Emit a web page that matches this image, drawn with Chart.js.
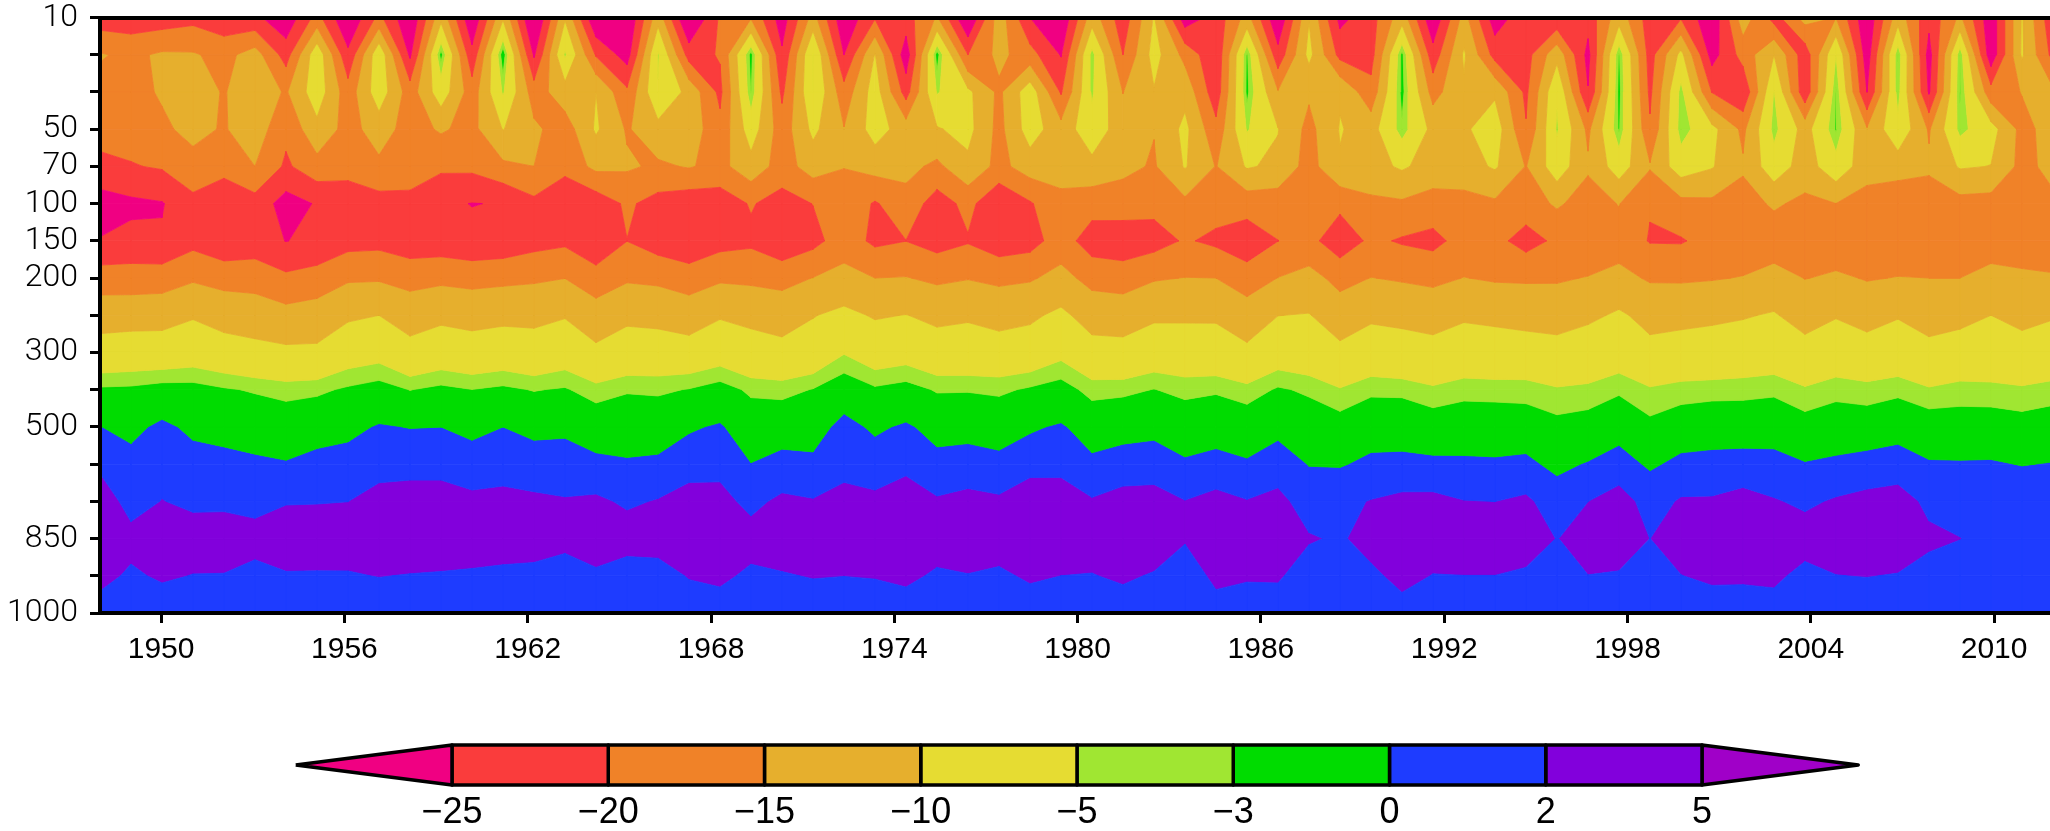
<!DOCTYPE html>
<html>
<head>
<meta charset="utf-8">
<title>Temperature section</title>
<script src="https://cdn.jsdelivr.net/npm/chart.js@4/dist/chart.umd.min.js"></script>
<style>
  html,body{margin:0;padding:0;background:#fff;overflow:hidden}
  canvas{position:absolute;left:0}
  #section{top:0}
  #bar{top:730px}
</style>
</head>
<body>
<canvas id="section" width="2050" height="720"></canvas>
<canvas id="bar" width="2050" height="101"></canvas>
<script>
// pressure levels, bottom of the section first
const levels=[1000,925,850,700,600,500,400,300,250,200,150,100,70,50,30,20,10];
const levelLabels=[1000,850,500,300,200,150,100,70,50,10];
const yearTicks=[1950,1956,1962,1968,1974,1980,1986,1992,1998,2004,2010];
const firstYear=1948, yearStep=1.0147;
const seamLevels=[20,70,200,700];

// one row per level, one value per sample along the time axis
const t10=[-22.8,-23.2,-22.7,-21.5,-23.5,-23.8,-28.7,-18.1,-29.9,-18.6,-29.5,-11.3,-29.4,-10.6,-31.4,-10.5,
-30,-30,-11.8,-31.5,-19.2,-15.5,-27.6,-13,-29,-20.5,-22,-14.5,-30.5,-12,-25,-29.5,
-12.2,-23,-9.6,-28,-23,-13,-29.6,-10.2,-26.5,-22,-12,-29.3,-13,-27.9,-21.5,-24,
-23,-12,-22.5,-20.5,-29,-12,-22,-13,-15,-29,-12,-23.5,-14,-28.5,-9.5,-24];
const t20=[-14.6,-16,-14.3,-14.5,-16.5,-12.8,-22.1,-6.4,-23.8,-6.1,-25.8,-2,-23.4,-1.3,-25.6,-4.3,
-20.5,-27.2,-4.4,-22,-19.6,-2,-24.2,-4.7,-25,-9.7,-28,-1.8,-20,-13.5,-18,-25.3,
-3.7,-20,-8,-16.5,-24,-2.5,-23.2,-8.5,-21.5,-22,-2.2,-23,-9.3,-21.8,-22,-11.5,
-26.5,-2.6,-22,-8.5,-27,-18,-10,-23,-5,-27.6,-2.85,-27,-3,-28.2,-9.3,-21.5];
const t30=[-16.5,-16.5,-14.5,-13,-15.3,-12,-15.5,-7,-17.8,-7,-17.5,-7,-17.6,-4.5,-17.4,-12.2,
-10,-19,-5.3,-11.5,-21.2,-2.85,-21,-4.95,-18,-7.5,-22,-4.6,-8.9,-16,-7,-20.5,
-4.4,-15.1,-10.3,-11.5,-23,-2.3,-14.6,-14.2,-10.5,-18.3,-2,-16.9,-10.6,-10.8,-21,-5.4,
-24.7,-2.1,-21,-3.8,-20.2,-24.3,-4.8,-23.4,-2.7,-25.05,-3.6,-25.6,-2.6,-18,-14.8,-14];
const t50=[-18.5,-18,-15.8,-13.7,-15.4,-12.2,-18.8,-11.4,-16.8,-12.7,-17,-14.4,-16.5,-9.8,-14,-17.5,
-9.3,-15.5,-11.6,-12,-18.5,-7.3,-17.7,-8.8,-14.8,-7.8,-12.4,-10.4,-8.4,-16.5,-7.5,-13.1,
-6.4,-13,-14.8,-8.7,-18.5,-4.6,-9.8,-16.5,-9.7,-12,-3.4,-11.4,-10.8,-7.1,-19.6,-4.5,
-16,-2.6,-19.3,-3.4,-8.5,-16.1,-3.9,-11.9,-2.7,-14.5,-6.05,-15.5,-3.9,-8,-16.5,-13];
const t70=[-21,-20.3,-19.5,-16.5,-18.5,-15,-20.8,-16.8,-17.2,-16,-17,-19,-18.85,-16,-15,-18.2,
-13.7,-14.3,-15.8,-14.6,-16.5,-11.8,-17.2,-12.7,-14.9,-13,-13.5,-16.1,-11.2,-16.5,-12.5,-13.5,
-11.6,-13.7,-15.5,-9.6,-15.2,-9.5,-11,-17,-10.4,-11.7,-9.3,-12,-12,-9.4,-15.2,-7,
-14.3,-7.4,-14.5,-7.2,-9.6,-14.4,-6.8,-12.5,-6.5,-13,-12.8,-14.2,-9.5,-10.1,-16.5,-13.5];
const t100=[-27.5,-26,-25.3,-21.5,-23.2,-22,-27,-24.6,-24.5,-22,-21.7,-24.3,-25.1,-24.8,-21.2,-24.8,
-23,-19.2,-21.8,-23.2,-22.7,-19.6,-22,-19.9,-16.5,-20.5,-16.8,-22.4,-18.5,-24.2,-20.5,-16,
-17.8,-17.5,-18.5,-16.2,-18,-17.8,-17.8,-17.5,-18.8,-16,-15.7,-17,-16.7,-15.8,-17.3,-14.3,
-17.1,-14.8,-19.7,-16.5,-16,-16.7,-14.4,-16,-15,-16.9,-18.5,-17.4,-16.7,-17,-18,-16];
const t150=[-24.7,-23.7,-24.5,-21.5,-24,-22.8,-25.1,-24,-21.8,-21.5,-23,-23,-24,-23.5,-21.8,-20.95,
-24.5,-20.05,-22.5,-24.5,-21.8,-21,-24,-21.5,-17.5,-21,-20.05,-22,-20.4,-23,-22,-17.5,
-22.6,-23,-22,-19.5,-21,-23,-20.05,-18.5,-23,-19,-20.5,-21.5,-18,-18.5,-22,-19,
-18.5,-17,-20.3,-20.4,-18.3,-18,-17.4,-18,-17,-18.5,-17,-17.8,-18,-17.5,-18.5,-18];
const t200=[-17.5,-17.6,-17.3,-15.6,-16.6,-17,-19,-17.9,-15.6,-15.5,-16.7,-16,-16.5,-16.1,-15.7,-15.05,
-17.6,-15.6,-16,-17.1,-15.7,-16,-16.5,-14.9,-13.3,-15,-14.8,-15.9,-15.2,-16,-15.5,-13.5,
-16.5,-17.4,-15.4,-14.9,-15,-17.7,-14.9,-13.3,-16.5,-14.9,-15.5,-16,-14.9,-15.5,-15.5,-15.5,
-14.8,-13.7,-15.5,-15.5,-15.3,-14.8,-13.4,-15.1,-14.5,-15.2,-14.9,-15,-15,-13.4,-13.8,-14.5];
const t250=[-12,-11.8,-11.7,-10.4,-11.9,-12.2,-13.3,-12.6,-10.7,-10,-11.9,-11,-11.5,-11.1,-11,-10.3,
-12.8,-10.9,-11.3,-12.5,-10.4,-11,-12,-10.2,-8.9,-10.4,-9.9,-11,-10.5,-11.5,-10.8,-9,
-12,-11.8,-10.7,-10.65,-10.6,-12.3,-10.05,-9.8,-12.4,-10.7,-10.9,-12,-10.6,-11,-12.1,-12,
-11,-9.3,-11.5,-11.8,-10.8,-10.35,-9.6,-12,-10.3,-12.8,-10.3,-11.5,-11.9,-10,-12,-10.4];
const t300=[-7.95,-7.59,-7.55,-6.91,-7.82,-8.72,-9.11,-9.15,-6.85,-6.23,-8.51,-7.26,-7.93,-7.35,-8.13,-6.96,
-9,-7.84,-7.75,-7.84,-6.78,-8.25,-8.57,-7.84,-5.2,-7.08,-6.48,-7.86,-7.92,-7.98,-7.62,-5.86,
-8.2,-8.71,-7.31,-7.53,-7.8,-9.15,-7,-7.58,-8.9,-7.68,-8.4,-8.2,-7.51,-7.74,-7.13,-8.2,
-7,-6.96,-8.63,-7.19,-7.87,-7.34,-7.1,-8.1,-7.08,-6.6,-7.43,-8.9,-6.82,-6.66,-7.1,-7.22];
const t400=[-2.62,-2.5,-1.95,-2.04,-2.73,-3.24,-3.82,-3.48,-2.62,-1.92,-3.05,-2.39,-2.96,-2.48,-3.12,-2.74,
-4.14,-3.23,-3.41,-2.87,-1.91,-3.46,-3.81,-2.87,-1.21,-2.6,-2,-3.22,-3.18,-3.47,-2.64,-1.86,
-3.83,-3.58,-2.92,-3.7,-3.32,-4.2,-2.69,-3.39,-4.8,-3.51,-3.58,-4.6,-3.86,-3.95,-4.22,-4.75,
-4.6,-3.42,-4.7,-4.37,-3.95,-3.89,-3.54,-4.7,-3.93,-4.56,-3.65,-4.7,-4.45,-4.57,-4.75,-4.26];
const t500=[.05,-.6,.5,-.48,-.72,-.98,-1.2,-.78,-.54,.19,-.06,0,-.48,0,-.48,-.41,
-.94,-1.1,-.98,-.24,.25,-1.3,-.8,-.9,.67,-.34,.31,-.72,-.6,-.84,-.24,.24,
-.94,-.62,-.48,-1.08,-.78,-1.13,-.48,-1.4,-1.7,-.92,-.88,-1.3,-1.03,-1.08,-.96,-2.15,
-1.6,-.66,-2.3,-.94,-.82,-.77,-.79,-1.8,-1.02,-.84,-.62,-1.4,-1.2,-1.18,-1.75,-1.26];
const t600=[1.61,.74,1.28,.86,.62,.36,.14,.56,.8,1.4,1.28,1.4,.86,1.26,.86,.94,
.41,.24,.36,1.1,1.44,.05,.54,.44,1.56,1.01,1.6,.62,.74,.5,1.1,1.54,
.41,.72,.86,.26,.56,.22,.86,-.06,-.15,.42,.47,.41,.31,.26,.38,-.42,
.14,.68,-.24,.41,.53,.58,.55,.14,.32,.5,.72,.2,.14,.17,-.06,.08];
const t700=[3.17,1.27,2.06,1.6,1.63,1.39,1.87,1.9,1.99,2.6,2.96,2.8,2.5,2.52,2.4,2.15,
2.39,1.69,2.14,2.93,2.62,1.47,2.44,2.14,2.46,2.43,2.88,2.23,2.67,2.35,3.6,2.83,
2.19,2.89,2.95,2.06,2.71,2.1,2.66,.97,1.53,2.09,2.53,2.56,2.06,1.99,2.4,.92,
1.99,3.03,1.1,2.23,2.25,2.85,2.17,1.63,2.24,2.74,3.1,1.45,1.6,1.4,1.2,1.2];
const t850=[3.6,2.61,3,2.96,2.97,2.73,3.19,3.3,3,3.3,3.4,3.3,3.2,3,2.9,2.8,
3,3.03,2.9,3.4,3.5,2.82,3.1,3.1,3.1,3.1,3.6,2.9,3.2,3,3.8,3.4,
3,3.6,3.3,2.2,3.5,3.2,3.4,2.2,1.75,2.8,3.5,3.1,3,3,3,1.95,
2.8,3.3,1.99,3,3.2,3.4,3.3,2.97,3,3.3,3.3,2.5,2.02,1.7,1.5,1.5];
const t925=[2.56,1.72,2.26,1.95,1.93,1.45,1.84,1.8,1.85,2.06,1.92,1.83,1.71,1.58,1.5,.8,
1.71,.9,1.2,2.14,2.41,1.63,1.86,2.11,2.02,2.12,2.41,1.74,1.93,1.67,2.29,2,
1.92,2.32,1.83,.88,2.5,2.23,2.26,1,1.5,1.59,2.6,1.94,1.99,1.99,1.71,1.5,
1.98,1.8,1.6,1.97,2.35,2.32,2.44,1.4,1.97,2.06,1.9,1.13,1.5,1.4,1.3,1.3];
const t1000=[1.2,1,.92,1,1,.9,.9,.9,.9,.72,.9,.9,.9,.9,.9,.8,
.9,.9,.9,.8,1.06,.9,.9,.8,.8,.8,1.06,.9,.9,.9,.94,.8,
.9,.98,.9,.8,1.16,.89,.92,.8,.8,.9,1.26,.9,.9,.9,.9,.8,
.9,.9,.8,.9,1,.98,1.1,.9,.9,.72,.9,.9,.9,.9,.8,.8];
const rows=[t1000,t925,t850,t700,t600,t500,t400,t300,t250,t200,t150,t100,t70,t50,t30,t20,t10];

const edges=[-25,-20,-15,-10,-5,-3,0,2,5];
const colors=['rgb(240,0,130)','rgb(250,60,60)','rgb(240,130,40)','rgb(230,175,45)','rgb(230,220,50)',
  'rgb(160,230,50)','rgb(0,220,0)','rgb(30,60,255)','rgb(130,0,220)','rgb(160,0,200)'];
const edgeLabels=edges.map(v=>v<0?'\u2212'+(-v):String(v));

const years=rows[0].map((v,k)=>firstYear+k*yearStep);
const xMax=firstYear+1950/30.55;

// keep the part of a polygon on one side of a contour value
function clip(poly,edge,keepAbove){
  const out=[];
  const inside=p=>keepAbove?p.v>=edge:p.v<=edge;
  poly.forEach((p,i)=>{
    const q=poly[(i+1)%poly.length];
    if(inside(p)) out.push(p);
    if(inside(p)!==inside(q)){
      const f=(edge-p.v)/(q.v-p.v);
      out.push({x:p.x+f*(q.x-p.x),y:p.y+f*(q.y-p.y),v:edge});
    }
  });
  return out;
}

// grid cells as four-cornered polygons
function gridCells(){
  const cells=[];
  for(let l=0;l<rows.length-1;l++){
    for(let k=0;k<years.length-1;k++){
      cells.push([
        {x:years[k],y:l,v:rows[l][k]},
        {x:years[k+1],y:l,v:rows[l][k+1]},
        {x:years[k+1],y:l+1,v:rows[l+1][k+1]},
        {x:years[k],y:l+1,v:rows[l+1][k]}
      ]);
    }
  }
  return cells;
}

// points of one colour band, pieces separated by a gap so each fills on its own
function bandPoints(cells,lo,hi){
  const pts=[];
  cells.forEach(cell=>{
    let poly=cell;
    if(lo!==null) poly=clip(poly,lo,true);
    if(poly.length&&hi!==null) poly=clip(poly,hi,false);
    if(poly.length<3) return;
    poly.forEach(p=>pts.push({x:p.x,y:p.y}));
    pts.push({x:poly[0].x,y:poly[0].y});
    pts.push({x:poly[0].x,y:NaN});
  });
  return pts;
}

const cells=gridCells();
const datasets=[];
for(let b=0;b<=edges.length;b++){
  const lo=b===0?null:edges[b-1];
  const hi=b===edges.length?null:edges[b];
  datasets.push({
    data:bandPoints(cells,lo,hi),
    showLine:true,fill:'shape',spanGaps:false,
    backgroundColor:colors[b],borderColor:colors[b],borderWidth:.8,
    pointRadius:0,tension:0
  });
}
seamLevels.forEach(lev=>{
  datasets.push({
    data:[{x:firstYear,y:levels.indexOf(lev)},{x:xMax,y:levels.indexOf(lev)}],
    showLine:true,fill:false,pointRadius:0,borderWidth:1,
    borderColor:lev===700?'rgba(200,190,170,.55)':'rgba(120,80,40,.55)'
  });
});

// tick labels must not push the plot area around
function noPadding(s){s.paddingTop=0;s.paddingBottom=0;s.paddingLeft=0;s.paddingRight=0}

new Chart(document.getElementById('section'),{
  type:'scatter',
  data:{datasets},
  options:{
    responsive:false,animation:false,events:[],
    layout:{padding:0},
    plugins:{legend:{display:false},tooltip:{enabled:false}},
    scales:{
      x:{
        type:'linear',position:'bottom',min:firstYear,max:xMax,
        afterBuildTicks:s=>{s.ticks=yearTicks.map(v=>({value:v}))},
        afterFit:s=>{s.height=720-613;noPadding(s)},
        ticks:{color:'#000',autoSkip:false,maxRotation:0,padding:9,callback:v=>String(v),
          font:{family:'Liberation Sans',size:30}},
        grid:{drawOnChartArea:false,tickLength:10,tickWidth:3,tickColor:'#000'},
        border:{color:'#000',width:4,z:1}
      },
      top:{
        type:'linear',position:'top',min:firstYear,max:xMax,
        afterFit:s=>{s.height=17.5;noPadding(s)},
        ticks:{display:false},
        grid:{display:false},
        border:{color:'#000',width:4,z:1}
      },
      y:{
        type:'linear',min:0,max:levels.length-1,
        afterBuildTicks:s=>{s.ticks=levels.map((v,i)=>({value:i}))},
        afterFit:s=>{s.width=100;noPadding(s)},
        ticks:{color:'#000',autoSkip:false,padding:12,
          callback:v=>levelLabels.includes(levels[v])?String(levels[v]):'',
          font:{family:'Roboto',size:32,weight:300}},
        grid:{drawOnChartArea:false,tickLength:10,tickWidth:3,tickColor:'#000'},
        border:{color:'#000',width:4,z:1}
      }
    }
  }
});

// colour key: one box per band, triangles at both ends, on an index scale
const last=edges.length-1;
const keySets=colors.map((c,b)=>{
  const poly=b===0?[[-1,.5],[0,0],[0,1]]
    :b===edges.length?[[last,0],[last+1,.5],[last,1]]
    :[[b-1,0],[b,0],[b,1],[b-1,1]];
  const data=poly.concat([poly[0]]).map(p=>({x:p[0],y:p[1]}));
  return {data,showLine:true,fill:'shape',backgroundColor:c,borderColor:'#000',borderWidth:3.5,
    borderJoinStyle:'round',pointRadius:0,clip:false};
});

new Chart(document.getElementById('bar'),{
  type:'scatter',
  data:{datasets:keySets},
  options:{
    responsive:false,animation:false,events:[],
    layout:{padding:{left:295.75,right:191.75,top:15,bottom:0}},
    plugins:{legend:{display:false},tooltip:{enabled:false}},
    scales:{
      x:{
        type:'linear',min:-1,max:last+1,
        afterBuildTicks:s=>{s.ticks=edges.map((v,i)=>({value:i}))},
        afterFit:s=>{s.height=46;noPadding(s)},
        ticks:{color:'#000',autoSkip:false,maxRotation:0,padding:-2,
          callback:v=>edgeLabels[v],
          font:{family:'Liberation Sans',size:36}},
        grid:{display:false},
        border:{display:false}
      },
      y:{type:'linear',min:0,max:1,display:false}
    }
  }
});
</script>
</body>
</html>
